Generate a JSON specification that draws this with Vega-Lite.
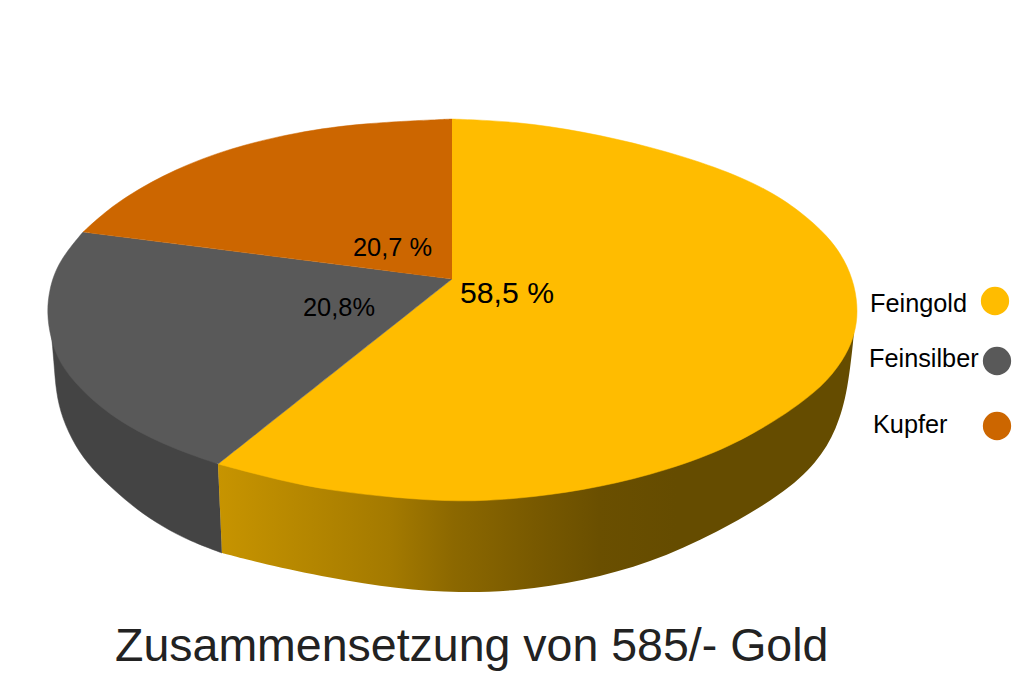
{
  "$schema": "https://vega.github.io/schema/vega-lite/v6.json",
  "autosize": {"type": "fit", "contains": "padding"},
  "width": 1024,
  "height": 691,
  "padding": 0,
  "background": "#ffffff",
  "view": {"stroke": null},
  "config": {"text": {"font": "Liberation Sans", "align": "left", "baseline": "alphabetic"}},
  "datasets": {
    "sides": [
      {"part": "Feinsilber", "i": 0, "x": 218, "y": 464},
      {"part": "Feinsilber", "i": 1, "x": 218, "y": 464},
      {"part": "Feinsilber", "i": 2, "x": 218, "y": 464},
      {"part": "Feinsilber", "i": 3, "x": 222, "y": 553},
      {"part": "Feinsilber", "i": 4, "x": 222, "y": 553},
      {"part": "Feinsilber", "i": 5, "x": 222, "y": 553},
      {"part": "Feinsilber", "i": 6, "x": 190, "y": 541},
      {"part": "Feinsilber", "i": 7, "x": 163, "y": 527},
      {"part": "Feinsilber", "i": 8, "x": 136, "y": 509},
      {"part": "Feinsilber", "i": 9, "x": 113, "y": 489},
      {"part": "Feinsilber", "i": 10, "x": 92, "y": 469},
      {"part": "Feinsilber", "i": 11, "x": 75, "y": 446},
      {"part": "Feinsilber", "i": 12, "x": 62, "y": 418},
      {"part": "Feinsilber", "i": 13, "x": 56, "y": 392},
      {"part": "Feinsilber", "i": 14, "x": 54, "y": 362},
      {"part": "Feinsilber", "i": 15, "x": 51, "y": 330},
      {"part": "Feinsilber", "i": 16, "x": 51, "y": 330},
      {"part": "Feinsilber", "i": 17, "x": 51, "y": 330}
    ],
    "goldSide": [
      {"i": 0, "x": 218, "y": 464},
      {"i": 1, "x": 218, "y": 464},
      {"i": 2, "x": 218, "y": 464},
      {"i": 3, "x": 222, "y": 553},
      {"i": 4, "x": 222, "y": 553},
      {"i": 5, "x": 222, "y": 553},
      {"i": 6, "x": 263, "y": 564},
      {"i": 7, "x": 330, "y": 578},
      {"i": 8, "x": 397, "y": 589},
      {"i": 9, "x": 460, "y": 593},
      {"i": 10, "x": 517, "y": 591},
      {"i": 11, "x": 583, "y": 581},
      {"i": 12, "x": 650, "y": 563},
      {"i": 13, "x": 717, "y": 533},
      {"i": 14, "x": 783, "y": 494},
      {"i": 15, "x": 817, "y": 463},
      {"i": 16, "x": 837, "y": 429},
      {"i": 17, "x": 848, "y": 390},
      {"i": 18, "x": 854, "y": 333},
      {"i": 19, "x": 854, "y": 333},
      {"i": 20, "x": 854, "y": 333}
    ],
    "tops": [
      {"part": "Feingold", "i": 0, "x": 452, "y": 279},
      {"part": "Feingold", "i": 1, "x": 452, "y": 279},
      {"part": "Feingold", "i": 2, "x": 452, "y": 279},
      {"part": "Feingold", "i": 3, "x": 452, "y": 119},
      {"part": "Feingold", "i": 4, "x": 452, "y": 119},
      {"part": "Feingold", "i": 5, "x": 452, "y": 119},
      {"part": "Feingold", "i": 6, "x": 517, "y": 121.5},
      {"part": "Feingold", "i": 7, "x": 583, "y": 131.5},
      {"part": "Feingold", "i": 8, "x": 650, "y": 146.5},
      {"part": "Feingold", "i": 9, "x": 717, "y": 167},
      {"part": "Feingold", "i": 10, "x": 767, "y": 189},
      {"part": "Feingold", "i": 11, "x": 800, "y": 211},
      {"part": "Feingold", "i": 12, "x": 828, "y": 236},
      {"part": "Feingold", "i": 13, "x": 845, "y": 260},
      {"part": "Feingold", "i": 14, "x": 855, "y": 286},
      {"part": "Feingold", "i": 15, "x": 858, "y": 312},
      {"part": "Feingold", "i": 16, "x": 855, "y": 333},
      {"part": "Feingold", "i": 17, "x": 847, "y": 354},
      {"part": "Feingold", "i": 18, "x": 828, "y": 381},
      {"part": "Feingold", "i": 19, "x": 800, "y": 404},
      {"part": "Feingold", "i": 20, "x": 767, "y": 426},
      {"part": "Feingold", "i": 21, "x": 717, "y": 453},
      {"part": "Feingold", "i": 22, "x": 650, "y": 475.5},
      {"part": "Feingold", "i": 23, "x": 583, "y": 490.5},
      {"part": "Feingold", "i": 24, "x": 517, "y": 499},
      {"part": "Feingold", "i": 25, "x": 460, "y": 502},
      {"part": "Feingold", "i": 26, "x": 397, "y": 498},
      {"part": "Feingold", "i": 27, "x": 330, "y": 490.5},
      {"part": "Feingold", "i": 28, "x": 280, "y": 480.5},
      {"part": "Feingold", "i": 29, "x": 218, "y": 464},
      {"part": "Feingold", "i": 30, "x": 218, "y": 464},
      {"part": "Feingold", "i": 31, "x": 218, "y": 464},
      {"part": "Feinsilber", "i": 0, "x": 452, "y": 279},
      {"part": "Feinsilber", "i": 1, "x": 452, "y": 279},
      {"part": "Feinsilber", "i": 2, "x": 452, "y": 279},
      {"part": "Feinsilber", "i": 3, "x": 218, "y": 464},
      {"part": "Feinsilber", "i": 4, "x": 218, "y": 464},
      {"part": "Feinsilber", "i": 5, "x": 218, "y": 464},
      {"part": "Feinsilber", "i": 6, "x": 163, "y": 445},
      {"part": "Feinsilber", "i": 7, "x": 113, "y": 418},
      {"part": "Feinsilber", "i": 8, "x": 80, "y": 389},
      {"part": "Feinsilber", "i": 9, "x": 59, "y": 363},
      {"part": "Feinsilber", "i": 10, "x": 50, "y": 336},
      {"part": "Feinsilber", "i": 11, "x": 47, "y": 313},
      {"part": "Feinsilber", "i": 12, "x": 49, "y": 290},
      {"part": "Feinsilber", "i": 13, "x": 58, "y": 262},
      {"part": "Feinsilber", "i": 14, "x": 83, "y": 232},
      {"part": "Feinsilber", "i": 15, "x": 83, "y": 232},
      {"part": "Feinsilber", "i": 16, "x": 83, "y": 232},
      {"part": "Kupfer", "i": 0, "x": 452, "y": 279},
      {"part": "Kupfer", "i": 1, "x": 452, "y": 279},
      {"part": "Kupfer", "i": 2, "x": 452, "y": 279},
      {"part": "Kupfer", "i": 3, "x": 83, "y": 232},
      {"part": "Kupfer", "i": 4, "x": 83, "y": 232},
      {"part": "Kupfer", "i": 5, "x": 83, "y": 232},
      {"part": "Kupfer", "i": 6, "x": 105, "y": 212},
      {"part": "Kupfer", "i": 7, "x": 130, "y": 194},
      {"part": "Kupfer", "i": 8, "x": 173, "y": 170},
      {"part": "Kupfer", "i": 9, "x": 230, "y": 148},
      {"part": "Kupfer", "i": 10, "x": 297, "y": 132},
      {"part": "Kupfer", "i": 11, "x": 363, "y": 123},
      {"part": "Kupfer", "i": 12, "x": 452, "y": 119},
      {"part": "Kupfer", "i": 13, "x": 452, "y": 119},
      {"part": "Kupfer", "i": 14, "x": 452, "y": 119}
    ],
    "shares": [
      {"part": "Feingold", "label": "58,5 %", "x": 460, "y": 303},
      {"part": "Feinsilber", "label": "20,8%", "x": 303, "y": 316},
      {"part": "Kupfer", "label": "20,7 %", "x": 353, "y": 256}
    ],
    "legend": [
      {"part": "Feingold", "x": 870, "y": 312, "kx": 995, "ky": 301},
      {"part": "Feinsilber", "x": 869, "y": 367, "kx": 997, "ky": 361},
      {"part": "Kupfer", "x": 873, "y": 433, "kx": 997, "ky": 426}
    ],
    "heading": [
      {"label": "Zusammensetzung von 585/- Gold", "x": 115, "y": 661}
    ]
  },
  "layer": [
    {
      "data": {"name": "sides"},
      "mark": {"type": "line", "interpolate": "basis", "fill": "#444444", "stroke": "#444444", "strokeWidth": 0.5},
      "encoding": {
        "x": {"field": "x", "type": "quantitative", "axis": null, "scale": {"domain": [0, 1024], "nice": false, "zero": false}},
        "y": {"field": "y", "type": "quantitative", "axis": null, "scale": {"domain": [691, 0], "nice": false, "zero": false}},
        "order": {"field": "i"}
      }
    },
    {
      "data": {"name": "goldSide"},
      "mark": {
        "type": "line",
        "interpolate": "basis",
        "stroke": null,
        "fill": {
          "gradient": "linear",
          "x1": 0,
          "x2": 1,
          "y1": 0,
          "y2": 0,
          "stops": [
            {"offset": 0, "color": "#c79400"},
            {"offset": 0.27, "color": "#a47a00"},
            {"offset": 0.37, "color": "#8c6800"},
            {"offset": 0.5, "color": "#785900"},
            {"offset": 0.6, "color": "#6a4f00"},
            {"offset": 0.72, "color": "#654c00"},
            {"offset": 1, "color": "#654c00"}
          ]
        }
      },
      "encoding": {
        "x": {"field": "x", "type": "quantitative"},
        "y": {"field": "y", "type": "quantitative"},
        "order": {"field": "i"}
      }
    },
    {
      "data": {"name": "tops"},
      "mark": {"type": "line", "interpolate": "basis", "strokeWidth": 0.5},
      "encoding": {
        "x": {"field": "x", "type": "quantitative"},
        "y": {"field": "y", "type": "quantitative"},
        "order": {"field": "i"},
        "fill": {"field": "part", "type": "nominal", "legend": null, "scale": {"domain": ["Feingold", "Feinsilber", "Kupfer"], "range": ["#ffbc00", "#595959", "#cc6600"]}},
        "stroke": {"field": "part", "type": "nominal", "legend": null, "scale": {"domain": ["Feingold", "Feinsilber", "Kupfer"], "range": ["#ffbc00", "#595959", "#cc6600"]}}
      }
    },
    {
      "data": {"name": "shares"},
      "transform": [{"filter": "datum.part != 'Feingold'"}],
      "mark": {"type": "text", "fontSize": 25.4, "color": "#000000"},
      "encoding": {
        "x": {"field": "x", "type": "quantitative"},
        "y": {"field": "y", "type": "quantitative"},
        "text": {"field": "label"}
      }
    },
    {
      "data": {"name": "shares"},
      "transform": [{"filter": "datum.part == 'Feingold'"}],
      "mark": {"type": "text", "fontSize": 30.2, "color": "#000000"},
      "encoding": {
        "x": {"field": "x", "type": "quantitative"},
        "y": {"field": "y", "type": "quantitative"},
        "text": {"field": "label"}
      }
    },
    {
      "data": {"name": "legend"},
      "mark": {"type": "text", "fontSize": 25.3, "color": "#000000"},
      "encoding": {
        "x": {"field": "x", "type": "quantitative"},
        "y": {"field": "y", "type": "quantitative"},
        "text": {"field": "part"}
      }
    },
    {
      "data": {"name": "legend"},
      "mark": {"type": "point", "shape": "circle", "filled": true, "size": 800, "opacity": 1},
      "encoding": {
        "x": {"field": "kx", "type": "quantitative"},
        "y": {"field": "ky", "type": "quantitative"},
        "fill": {"field": "part", "type": "nominal", "legend": null}
      }
    },
    {
      "data": {"name": "heading"},
      "mark": {"type": "text", "fontSize": 46.5, "color": "#222222"},
      "encoding": {
        "x": {"field": "x", "type": "quantitative"},
        "y": {"field": "y", "type": "quantitative"},
        "text": {"field": "label"}
      }
    }
  ]
}
